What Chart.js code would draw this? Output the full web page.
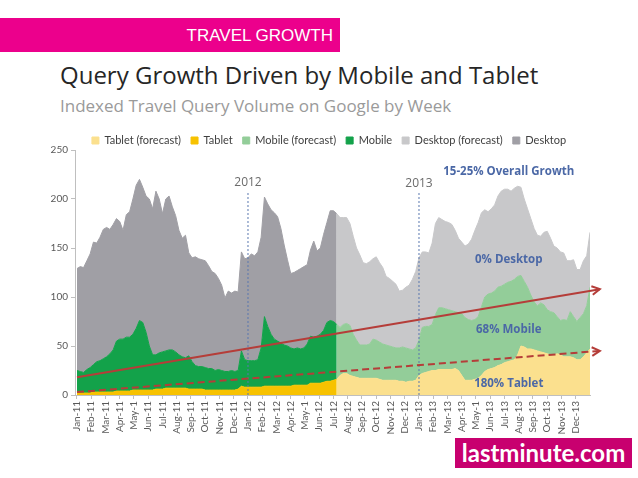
<!DOCTYPE html>
<html><head><meta charset="utf-8">
<script src="https://cdn.jsdelivr.net/npm/chart.js@4.4.1/dist/chart.umd.min.js"></script>
<style>
html,body{margin:0;padding:0;background:#fff;}
body{width:638px;height:478px;position:relative;overflow:hidden;font-family:'Open Sans',sans-serif;}
#bar{position:absolute;left:0;top:18px;width:340px;height:34px;background:#EC008C;}
#bar span{position:absolute;right:7px;top:0;font:17px 'Liberation Sans',Arial,sans-serif;line-height:35px;color:#fff;}
#title{position:absolute;left:60px;top:58px;font-size:24px;color:#262626;white-space:nowrap;line-height:34px;}
#sub{position:absolute;left:60px;top:93px;font-size:17px;color:#9a9a9a;white-space:nowrap;line-height:26px;}
#wrap{position:absolute;left:0;top:119px;width:638px;height:318px;}
#logo{position:absolute;left:455px;top:438px;width:177px;height:30px;background:#C8006F;color:#fff;font:bold 24px Lato,sans-serif;text-align:center;line-height:29px;}
</style></head><body>
<div id="bar"><span>TRAVEL GROWTH</span></div>
<div id="title">Query Growth Driven by Mobile and Tablet</div>
<div id="sub">Indexed Travel Query Volume on Google by Week</div>
<div id="wrap"><canvas id="c"></canvas></div>
<div id="logo">lastminute.com</div>
<script>
// ---- data (weekly, Jan 2011 = week 0) ----
const monthLabels = ['Jan-11','Feb-11','Mar-11','Apr-11','May-1','Jun-11','Jul-11','Aug-11','Sep-11','Oct-11','Nov-11','Dec-11',
  'Jan-12','Feb-12','Mar-12','Apr-12','May-1','Jun-12','Jul-12','Aug-12','Sep-12','Oct-12','Nov-12','Dec-12',
  'Jan-13','Feb-13','Mar-13','Apr-13','May-1','Jun-13','Jul-13','Aug-13','Sep-13','Oct-13','Nov-13','Dec-13'];
const weeksPerMonth = 52 / 12;
const forecastStartWeek = 79;

// upper edge of each stacked band (index value), actuals weeks 0..79
const tabletTop = [2,2,2,2,2,3,3,3,3,3, 3,3,4,4,4,4,4,5,5,5, 5,5,5,5,6,6,6,7,7,7, 7,7,7,7,6,6,6,6,6,5,
  5,5,5,5,5,5,5,5,5,6, 9,8,8,8,8,8,8,9,9,9, 9,9,9,9,9,9,10,10,10,10, 10,12,12,12,12,13,14,14,15,16];
const mobileTop = [25,24,23,26,28,31,34,35,37,39, 42,46,55,57,57,59,59,62,68,76, 74,64,50,41,41,43,44,45,46,46,
  44,41,39,38,40,34,30,29,29,28, 27,27,25,26,25,24,24,25,24,25, 45,36,35,35,35,36,48,80,70,62,
  57,55,53,51,50,48,47,48,47,48, 52,60,59,60,62,66,74,76,75,72];
const desktopTop = [129,131,130,137,144,156,155,161,169,171, 169,174,180,177,168,184,187,200,214,220,
  212,203,200,190,208,200,185,200,203,192, 183,168,160,163,145,140,141,139,138,137,
  132,126,124,119,112,99,106,104,106,105, 146,139,140,144,142,146,161,202,195,189,
  186,182,170,153,138,124,125,127,129,131, 133,148,157,147,150,164,176,188,188,185];

// forecast, weeks 79..156
const tabletForecastTop = [16, 20,22,22,20,19,18,17,17,17,17, 17,17,16,15,15,15,15,15,14,14,
  13,14,14,15,20,22,23,24,25,25, 26,26,26,26,26,27,25,20,15,15, 15,16,17,20,24,26,27,28,30,31,
  33,34,35,36,41,50,49,47,47,46, 45,44,43,42,41,41,42,41,39,39, 39,38,36,36,39,43,47];
const mobileForecastTop = [72, 69,72,73,71,62,56,51,51,51,52, 57,56,54,52,51,50,49,48,48,49,
  48,47,46,48,56,69,70,70,72,82, 89,89,88,87,86,85,84,83,79,77, 76,77,80,90,100,103,104,106,110,111,
  113,115,116,118,121,122,116,110,102,95, 91,94,92,87,85,84,80,76,77,76, 85,80,75,79,83,91,110];
const desktopForecastTop = [185, 181,181,181,175,162,150,143,135,134,136, 139,141,135,130,121,119,116,113,106,107,
  110,112,118,126,140,146,146,145,155,175, 181,179,177,176,174,168,160,156,152,154,
  159,168,176,186,189,187,190,194,203,208, 210,210,208,211,213,212,200,190,180,170,
  163,162,166,167,160,152,150,146,145,137, 137,138,128,128,137,142,166];

// trend arrows (start / end week and values)
const trendWeeks = [0, 159];
const overallTrend = [18, 108];
const tabletTrend = [3, 45];

// year markers and call-outs
const yearMarkers = [{label:'2012', month:12, top:208}, {label:'2013', month:24, top:207}];
const callouts = [
  {text:'15-25% Overall Growth', month:30.3, value:228},
  {text:'0% Desktop', month:30.3, value:138},
  {text:'68% Mobile', month:30.3, value:67},
  {text:'180% Tablet', month:30.3, value:12}
];

const COLORS = {
  tabletFc:'#FBE08E', tablet:'#F7C200', mobileFc:'#93CD99', mobile:'#13A24A',
  desktopFc:'#C8C8CA', desktop:'#A09FA5', trend:'#B53D39', year:'#5A78B0'
};

const pts = (arr, startWeek) => arr.map((v, i) => ({x: (startWeek + i) / weeksPerMonth, y: v}));
const area = (label, data, color, fill) => ({label, data, backgroundColor:color, borderColor:color,
  borderWidth:1, fill, pointRadius:0, tension:0, order:2});

const datasets = [
  area('Tablet (forecast)', pts(tabletForecastTop, forecastStartWeek), COLORS.tabletFc, 'origin'),
  area('Tablet', pts(tabletTop, 0), COLORS.tablet, 'origin'),
  area('Mobile (forecast)', pts(mobileForecastTop, forecastStartWeek), COLORS.mobileFc, 0),
  area('Mobile', pts(mobileTop, 0), COLORS.mobile, 1),
  area('Desktop (forecast)', pts(desktopForecastTop, forecastStartWeek), COLORS.desktopFc, 2),
  area('Desktop', pts(desktopTop, 0), COLORS.desktop, 3),
  {label:'overall trend', data: trendWeeks.map((w,i)=>({x:w/weeksPerMonth, y:overallTrend[i]})),
   borderColor:COLORS.trend, borderWidth:2, fill:false, pointRadius:0, clip:false, order:0, arrow:true},
  {label:'tablet trend', data: trendWeeks.map((w,i)=>({x:w/weeksPerMonth, y:tabletTrend[i]})),
   borderColor:COLORS.trend, borderWidth:2, borderDash:[7,4], fill:false, pointRadius:0, clip:false, order:0, arrow:true},
  ...yearMarkers.map(m => ({label:'year '+m.label, data:[{x:m.month,y:0},{x:m.month,y:m.top}],
   borderColor:COLORS.year, borderWidth:1, borderDash:[2,2], fill:false, pointRadius:0, order:1}))
];

const LEGEND_SHIFT = {x:34, y:6};
const overlay = {
  id:'overlay',
  afterLayout(chart){
    const lg = chart.legend;
    if(!lg) return;
    lg.left += LEGEND_SHIFT.x; lg.right += LEGEND_SHIFT.x;
    lg.top += LEGEND_SHIFT.y; lg.bottom += LEGEND_SHIFT.y;
  },
  afterDatasetsDraw(chart){
    const {ctx, scales:{x, y}} = chart;
    ctx.save();
    chart.data.datasets.forEach((ds, i) => {
      if(!ds.arrow) return;
      const p = chart.getDatasetMeta(i).data;
      const a = p[p.length-2], b = p[p.length-1];
      const ang = Math.atan2(b.y-a.y, b.x-a.x);
      ctx.setLineDash([]);
      ctx.strokeStyle = ds.borderColor; ctx.lineWidth = 2;
      ctx.beginPath();
      ctx.moveTo(b.x - 9*Math.cos(ang-0.5), b.y - 9*Math.sin(ang-0.5));
      ctx.lineTo(b.x, b.y);
      ctx.lineTo(b.x - 9*Math.cos(ang+0.5), b.y - 9*Math.sin(ang+0.5));
      ctx.stroke();
    });
    ctx.textAlign = 'center'; ctx.textBaseline = 'middle';
    ctx.fillStyle = '#6b6b6b'; ctx.font = '12px "Open Sans"';
    yearMarkers.forEach(m => ctx.fillText(m.label, x.getPixelForValue(m.month), y.getPixelForValue(m.top + 9)));
    ctx.fillStyle = '#4B68A6'; ctx.font = 'bold 11.5px "Open Sans"';
    callouts.forEach(c => ctx.fillText(c.text, x.getPixelForValue(c.month), y.getPixelForValue(c.value)));
    ctx.restore();
  }
};

new Chart(document.getElementById('c'), {
  type:'line',
  data:{datasets},
  plugins:[overlay],
  options:{
    responsive:true, maintainAspectRatio:false, animation:false,
    layout:{padding:{left:0, right:48, top:0, bottom:0}},
    plugins:{
      tooltip:{enabled:false},
      legend:{display:true, position:'top',
        labels:{boxWidth:7, boxHeight:7, padding:10, color:'#404040', font:{family:'Lato', size:11},
          filter:(item) => item.datasetIndex < 6}}
    },
    scales:{
      x:{type:'linear', min:-0.14, max:36,
        afterBuildTicks:(s) => { s.ticks = monthLabels.map((_, i) => ({value:i})); },
        afterFit:(s) => { s.height = 42; },
        ticks:{autoSkip:false, maxRotation:90, minRotation:90, padding:2, color:'#595959',
          font:{family:'Lato', size:10}, callback:(v) => monthLabels[v] ?? ''},
        grid:{drawOnChartArea:false, tickLength:4, color:'#bfbfbf'},
        border:{color:'#bfbfbf'}},
      y:{min:0, max:250,
        afterFit:(s) => { s.width = 75; },
        ticks:{stepSize:50, padding:3, color:'#595959', font:{family:'Lato', size:10}},
        grid:{drawOnChartArea:false, tickLength:4, color:'#bfbfbf'},
        border:{color:'#bfbfbf'}}
    }
  }
});
</script>
</body></html>
